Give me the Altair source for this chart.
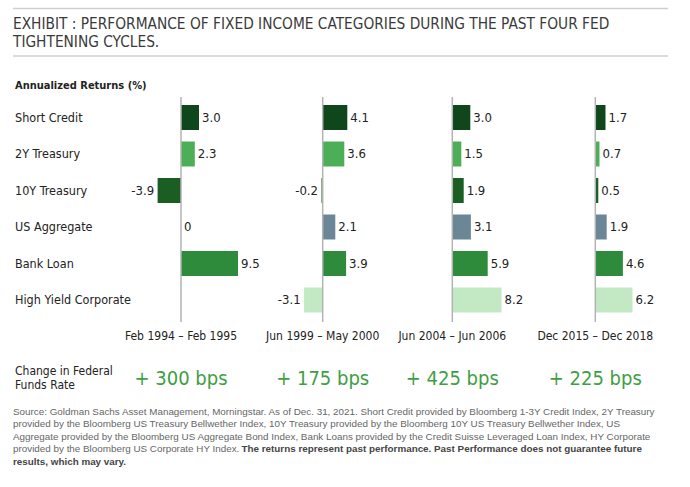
import altair as alt
import pandas as pd

# ---------------- data ----------------
categories = ["Short Credit", "2Y Treasury", "10Y Treasury", "US Aggregate",
              "Bank Loan", "High Yield Corporate"]
bar_colors = ["#0f461b", "#4caf57", "#1a5e24", "#6b8696", "#2e8b3c", "#c3e8c4"]

periods = ["Feb 1994 – Feb 1995", "Jun 1999 – May 2000",
           "Jun 2004 – Jun 2006", "Dec 2015 – Dec 2018"]
returns_1994 = [3.0, 2.3, -3.9, 0.0, 9.5, None]
returns_1999 = [4.1, 3.6, -0.2, 2.1, 3.9, -3.1]
returns_2004 = [3.0, 1.5, 1.9, 3.1, 5.9, 8.2]
returns_2015 = [1.7, 0.7, 0.5, 1.9, 4.6, 6.2]
fed_change_bps = [300, 175, 425, 225]

title_lines = ["EXHIBIT : PERFORMANCE OF FIXED INCOME CATEGORIES DURING THE PAST FOUR FED",
               "TIGHTENING CYCLES."]
y_title = "Annualized Returns (%)"
fed_lines = ["Change in Federal", "Funds Rate"]
source_lines = [
    "Source: Goldman Sachs Asset Management, Morningstar. As of Dec. 31, 2021. Short Credit provided by Bloomberg 1-3Y Credit Index, 2Y Treasury",
    "provided by the Bloomberg US Treasury Bellwether Index, 10Y Treasury provided by the Bloomberg 10Y US Treasury Bellwether Index, US",
    "Aggregate provided by the Bloomberg US Aggregate Bond Index, Bank Loans provided by the Credit Suisse Leveraged Loan Index, HY Corporate",
    "provided by the Bloomberg US Corporate HY Index.",
]
source_bold_lines = [
    "The returns represent past performance. Past Performance does not guarantee future",
    "results, which may vary.",
]

# ---------------- tables ----------------
all_returns = [returns_1994, returns_1999, returns_2004, returns_2015]
rows = []
for p, vals in zip(periods, all_returns):
    for c, v in zip(categories, vals):
        rows.append({"period": p, "category": c, "value": v})
df = pd.DataFrame(rows)
period_df = pd.DataFrame({"period": periods, "bps": fed_change_bps})
cat_df = pd.DataFrame({"category": categories})

NARROW = "DejaVu Sans Condensed, Liberation Sans Narrow, sans-serif"
SANS = "Liberation Sans, Arial, sans-serif"

Y = alt.Y("category:N",
          scale=alt.Scale(domain=categories, range=[99.25, 318.25],
                          paddingInner=0.315, paddingOuter=0.1575),
          axis=None)
COLOR = alt.Color("category:N", scale=alt.Scale(domain=categories, range=bar_colors),
                  legend=None)

one = alt.Data(values=[{}])

layers = []

# header rules and title
for yy in [8.5, 56]:
    layers.append(alt.Chart(one).mark_rule(color="#cfcfcf", strokeWidth=1.5).encode(
        x=alt.value(13), x2=alt.value(668), y=alt.value(yy)))
for line, yy in zip(title_lines, [29, 47]):
    layers.append(alt.Chart(one).mark_text(
        text=line, align="left", baseline="alphabetic", font=NARROW,
        fontSize=15.3, color="#3a3a3a").encode(x=alt.value(13), y=alt.value(yy)))
layers.append(alt.Chart(one).mark_text(
    text=y_title, align="left", baseline="alphabetic", font=NARROW,
    fontSize=11, fontWeight="bold", color="#222222").encode(x=alt.value(15), y=alt.value(88.5)))

# category labels
layers.append(alt.Chart(cat_df).mark_text(
    align="left", baseline="middle", font=NARROW, fontSize=12.5, color="#222222").encode(
    x=alt.value(15), y=Y, text="category:N"))

# panels
zero_px = [181, 322.7, 452.3, 595.3]
for p, z in zip(periods, zero_px):
    sc = alt.Scale(domain=[-5, 10], range=[z - 30, z + 60], nice=False, zero=False)
    base = alt.Chart(df).transform_filter(alt.datum.period == p).transform_filter(
        "isValid(datum.value)").transform_calculate(
        label="datum.value == 0 ? '0' : replace(format(datum.value, '.1f'), '\u2212', '-')")
    layers.append(base.mark_bar().encode(
        x=alt.X("value:Q", scale=sc, axis=None), x2=alt.datum(0), y=Y, color=COLOR))
    layers.append(base.transform_filter("datum.value >= 0").mark_text(
        align="left", baseline="middle", dx=3, font=NARROW, fontSize=13, color="#222222").encode(
        x=alt.X("value:Q", scale=sc, axis=None), y=Y, text="label:N"))
    layers.append(base.transform_filter("datum.value < 0").mark_text(
        align="right", baseline="middle", dx=-3.5, font=NARROW, fontSize=13, color="#222222").encode(
        x=alt.X("value:Q", scale=sc, axis=None), y=Y, text="label:N"))
    layers.append(alt.Chart(one).mark_rule(color="#b3b3b3", strokeWidth=1.5).encode(
        x=alt.XDatum(0, scale=sc, axis=None), y=alt.value(97), y2=alt.value(322)))
    pbase = alt.Chart(period_df).transform_filter(alt.datum.period == p).transform_calculate(
        bps_label="'+ ' + datum.bps + ' bps'")
    layers.append(pbase.mark_text(
        align="center", baseline="alphabetic", font=NARROW, fontSize=12, color="#222222").encode(
        x=alt.XDatum(0, scale=sc, axis=None), y=alt.value(339.5), text="period:N"))
    layers.append(pbase.mark_text(
        align="center", baseline="alphabetic", font=NARROW, fontSize=20, color="#3f9e44").encode(
        x=alt.XDatum(0, scale=sc, axis=None), y=alt.value(385), text="bps_label:N"))

# fed funds label
for line, yy in zip(fed_lines, [374.5, 389]):
    layers.append(alt.Chart(one).mark_text(
        text=line, align="left", baseline="alphabetic", font=NARROW,
        fontSize=12, color="#222222").encode(x=alt.value(15), y=alt.value(yy)))

# source
src_y = [415, 427.4, 439.8, 452.2, 464.6]
for line, yy in zip(source_lines, src_y):
    layers.append(alt.Chart(one).mark_text(
        text=line, align="left", baseline="alphabetic", font=SANS,
        fontSize=9.85, color="#666666").encode(x=alt.value(13), y=alt.value(yy)))
for line, (xx, yy) in zip(source_bold_lines, [(241.5, src_y[3]), (13, src_y[4])]):
    layers.append(alt.Chart(one).mark_text(
        text=line, align="left", baseline="alphabetic", font=SANS, fontWeight="bold",
        fontSize=9.85, color="#444444").encode(x=alt.value(xx), y=alt.value(yy)))

chart = alt.layer(*layers).resolve_scale(x="independent").properties(
    width=690, height=487, autosize=alt.AutoSizeParams(type="none"), padding=0,
    background="white").configure_view(stroke=None)

chart.save("out.html", embed_options={"renderer": "svg", "actions": False})
